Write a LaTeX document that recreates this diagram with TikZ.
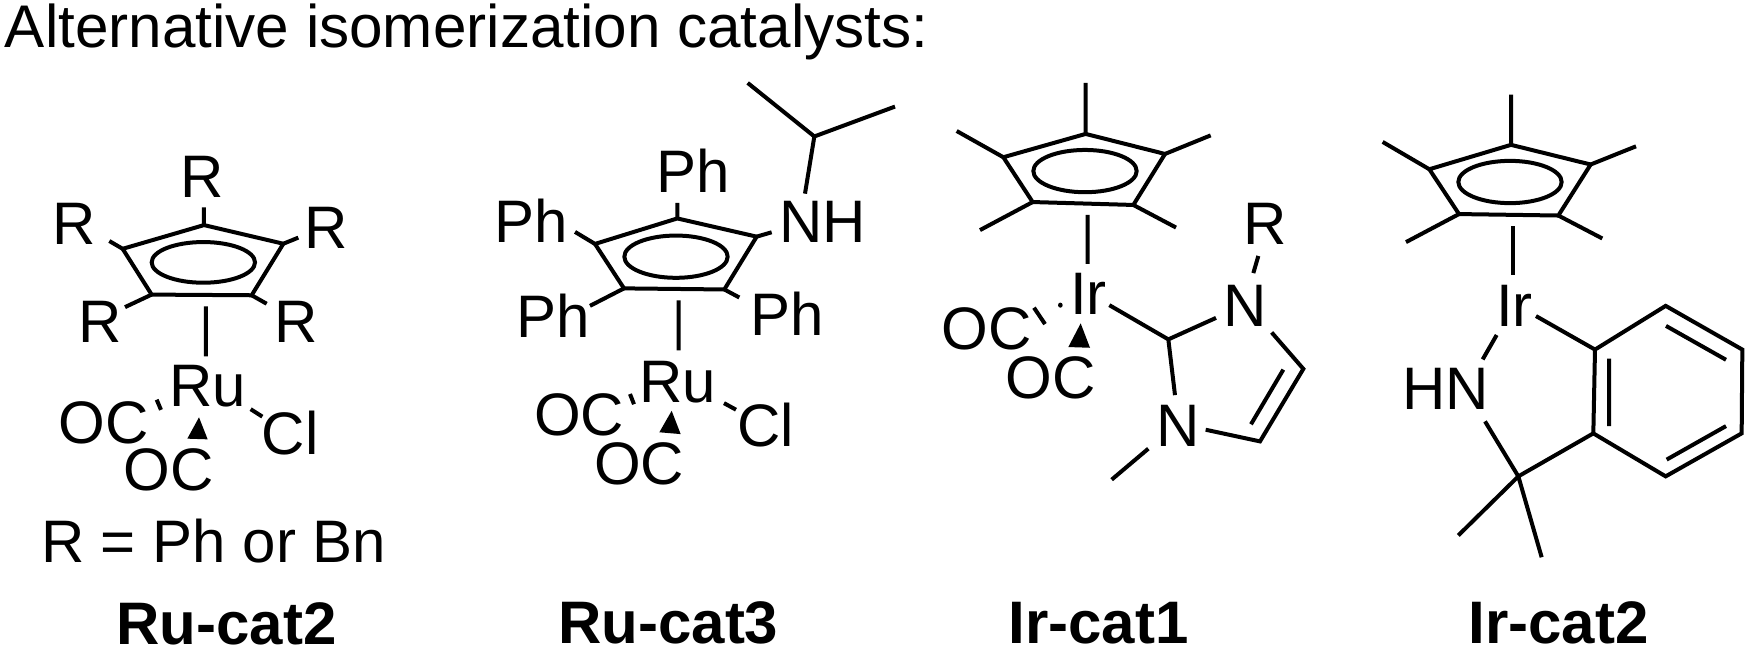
\documentclass[tikz,border=0pt]{standalone}
\usepackage{fontspec}
\setmainfont{Liberation Sans}
\tikzset{
  lbl/.style={anchor=base west,inner sep=0pt,outer sep=0pt,font=\fontsize{60}{64}\selectfont},
  namelbl/.style={anchor=base west,inner sep=0pt,outer sep=0pt,font=\fontsize{60}{64}\selectfont\bfseries},
  titlelbl/.style={anchor=base west,inner sep=0pt,outer sep=0pt,font=\fontsize{60.2}{64}\selectfont},
  bond/.style={draw=black,line width=4pt},
  wedge/.style={fill=black,draw=none},
  zoomeda/.style={x=0.33333pt,y=-0.339pt},
  zoomedb/.style={x=0.33333pt,y=-0.3643pt}
}
\begin{document}
\begin{tikzpicture}
\path[use as bounding box,fill=white] (0pt,0pt) rectangle (1749pt,-650pt);
\node[titlelbl] (title) at (5pt,-47.5pt) {Alternative isomerization catalysts:};

% Ru-cat2
\begin{scope}[zoomeda,shift={(0pt,-120pt)}]
\coordinate (a1) at (612,310); \coordinate (a2) at (850,365); \coordinate (a3) at (755,517); \coordinate (a4) at (455,515); \coordinate (a5) at (368,380);
\coordinate (a1s) at (612,258); \coordinate (a2s) at (895,347); \coordinate (a3s) at (800,542); \coordinate (a4s) at (375,552); \coordinate (a5s) at (328,357);
\coordinate (ac) at (610,420);
\coordinate (am1) at (618,550); \coordinate (am2) at (618,697);
\coordinate (ah1) at (470,825); \coordinate (ah2) at (483,855);
\coordinate (ac1) at (752,853); \coordinate (ac2) at (787,875);
\coordinate (aw1) at (597,877); \coordinate (aw2) at (562,940); \coordinate (aw3) at (623,942);
\draw[bond] (a1)--(a2)--(a3)--(a4)--(a5)--cycle;
\draw[bond] (a1)--(a1s) (a2)--(a2s) (a3)--(a3s) (a4)--(a4s) (a5)--(a5s);
\draw[bond] (ac) ellipse [x radius=155,y radius=60];
\draw[bond] (am1)--(am2) (ah1)--(ah2) (ac1)--(ac2);
\fill[wedge] (aw1)--(aw2)--(aw3)--cycle;
\node[lbl] (ar1) at (541,228) {R};
\node[lbl] (ar2) at (156,368) {R};
\node[lbl] (ar3) at (913,380) {R};
\node[lbl] (ar4) at (236,655) {R};
\node[lbl] (ar5) at (823,655) {R};
\node[lbl] (aru) at (508,845) {Ru};
\node[lbl] (aoc1) at (177,955) {OC};
\node[lbl] (aoc2) at (370,1094) {OC};
\node[lbl] (acl) at (786,987) {Cl};
\node[lbl] (arr) at (123,1305) {R = Ph or Bn};
\node[namelbl] (an) at (350,1548) {Ru-cat2};
\end{scope}

% Ru-cat3
\begin{scope}[zoomedb,shift={(480pt,-80pt)}]
\coordinate (b1) at (592,380); \coordinate (b2) at (830,430); \coordinate (b3) at (733,575); \coordinate (b4) at (432,572); \coordinate (b5) at (345,450);
\coordinate (b1s) at (592,337); \coordinate (b2s) at (875,418); \coordinate (b3s) at (778,597); \coordinate (b4s) at (330,620); \coordinate (b5s) at (285,417);
\coordinate (bc) at (588,485);
\coordinate (bm1) at (596,605); \coordinate (bm2) at (596,742);
\coordinate (bi1) at (803,8); \coordinate (bi2) at (1003,155); \coordinate (bi3) at (1245,73); \coordinate (bi4) at (975,312);
\coordinate (bh1) at (450,862); \coordinate (bh2) at (462,890);
\coordinate (bc1) at (732,887); \coordinate (bc2) at (768,905);
\coordinate (bw1) at (575,908); \coordinate (bw2) at (538,967); \coordinate (bw3) at (602,972);
\draw[bond] (b1)--(b2)--(b3)--(b4)--(b5)--cycle;
\draw[bond] (b1)--(b1s) (b2)--(b2s) (b3)--(b3s) (b4)--(b4s) (b5)--(b5s);
\draw[bond] (bc) ellipse [x radius=155,y radius=58];
\draw[bond] (bm1)--(bm2) (bh1)--(bh2) (bc1)--(bc2);
\draw[bond] (bi1)--(bi2)--(bi3) (bi2)--(bi4);
\fill[wedge] (bw1)--(bw2)--(bw3)--cycle;
\node[lbl] (bp1) at (528,308) {Ph};
\node[lbl] (bp2) at (43,445) {Ph};
\node[lbl] (bp3) at (108,708) {Ph};
\node[lbl] (bp4) at (810,700) {Ph};
\node[lbl] (bnh) at (897,445) {NH};
\node[lbl] (bru) at (478,885) {Ru};
\node[lbl] (boc1) at (162,975) {OC};
\node[lbl] (boc2) at (342,1110) {OC};
\node[lbl] (bcl) at (773,1005) {Cl};
\node[namelbl] (bn) at (235,1548) {Ru-cat3};
\end{scope}

% Ir-cat1
\begin{scope}[zoomedb,shift={(920pt,-80pt)}]
\coordinate (c1) at (497,148); \coordinate (c2) at (735,203); \coordinate (c3) at (640,343); \coordinate (c4) at (338,335); \coordinate (c5) at (250,212);
\coordinate (c1s) at (497,8); \coordinate (c2s) at (872,152); \coordinate (c3s) at (768,405); \coordinate (c4s) at (180,412); \coordinate (c5s) at (110,140);
\coordinate (cc) at (495,250);
\coordinate (cm1) at (503,370); \coordinate (cm2) at (503,505);
\coordinate (ch1) at (342,625); \coordinate (ch2) at (375,670);
\coordinate (cd) at (421,618);
\coordinate (cw1) at (482,668); \coordinate (cw2) at (445,733); \coordinate (cw3) at (510,735);
\coordinate (ci) at (568,618); \coordinate (cq) at (745,712); \coordinate (cq1) at (888,653); \coordinate (cq2) at (765,865);
\coordinate (cr1) at (1015,483); \coordinate (cr2) at (1000,530);
\coordinate (cn1) at (1055,693); \coordinate (cv1) at (1150,793); \coordinate (cv2) at (1020,992); \coordinate (cn2) at (857,960);
\coordinate (cd1) at (1090,795); \coordinate (cd2) at (993,945);
\coordinate (cme1) at (685,1012); \coordinate (cme2) at (575,1097);
\draw[bond] (c1)--(c2)--(c3)--(c4)--(c5)--cycle;
\draw[bond] (c1)--(c1s) (c2)--(c2s) (c3)--(c3s) (c4)--(c4s) (c5)--(c5s);
\draw[bond] (cc) ellipse [x radius=155,y radius=58];
\draw[bond] (cm1)--(cm2) (ch1)--(ch2);
\fill (cd) circle [radius=7];
\fill[wedge] (cw1)--(cw2)--(cw3)--cycle;
\draw[bond] (ci)--(cq)--(cq1) (cq)--(cq2) (cr1)--(cr2);
\draw[bond] (cn1)--(cv1)--(cv2)--(cn2) (cd1)--(cd2) (cme1)--(cme2);
\node[lbl] (cir) at (450,645) {Ir};
\node[lbl] (coc1) at (64,740) {OC};
\node[lbl] (coc2) at (257,875) {OC};
\node[lbl] (cn) at (910,677) {N};
\node[lbl] (cr) at (970,452) {R};
\node[lbl] (cnb) at (710,1005) {N};
\node[namelbl] (cname) at (265,1548) {Ir-cat1};
\end{scope}

% Ir-cat2
\begin{scope}[zoomedb,shift={(1340pt,-80pt)}]
\coordinate (d1) at (513,178); \coordinate (d2) at (752,232); \coordinate (d3) at (655,372); \coordinate (d4) at (357,368); \coordinate (d5) at (268,245);
\coordinate (d1s) at (513,40); \coordinate (d2s) at (888,182); \coordinate (d3s) at (787,435); \coordinate (d4s) at (198,445); \coordinate (d5s) at (128,170);
\coordinate (dc) at (510,280);
\coordinate (dm1) at (519,402); \coordinate (dm2) at (519,535);
\coordinate (di) at (588,648);
\coordinate (p1) at (765,740); \coordinate (p2) at (977,620); \coordinate (p3) at (1207,740); \coordinate (p4) at (1205,970); \coordinate (p5) at (977,1088); \coordinate (p6) at (760,970);
\coordinate (q1) at (978,675); \coordinate (q2) at (1158,768); \coordinate (q3) at (1158,950); \coordinate (q4) at (980,1042); \coordinate (q5) at (807,765); \coordinate (q6) at (807,950);
\coordinate (dq) at (535,1088); \coordinate (dn) at (435,937); \coordinate (dm3) at (355,1250); \coordinate (dm4) at (605,1310);
\coordinate (dh1) at (470,700); \coordinate (dh2) at (428,767);
\draw[bond] (d1)--(d2)--(d3)--(d4)--(d5)--cycle;
\draw[bond] (d1)--(d1s) (d2)--(d2s) (d3)--(d3s) (d4)--(d4s) (d5)--(d5s);
\draw[bond] (dc) ellipse [x radius=155,y radius=58];
\draw[bond] (dm1)--(dm2);
\draw[bond] (di)--(p1);
\draw[bond] (p1)--(p2)--(p3)--(p4)--(p5)--(p6)--cycle;
\draw[bond] (q1)--(q2) (q3)--(q4) (q5)--(q6);
\draw[bond] (p6)--(dq)--(dn) (dq)--(dm3) (dq)--(dm4) (dh1)--(dh2);
\node[lbl] (dir) at (468,678) {Ir};
\node[lbl] (dhn) at (186,905) {HN};
\node[namelbl] (dname) at (385,1548) {Ir-cat2};
\end{scope}
\end{tikzpicture}
\end{document}
